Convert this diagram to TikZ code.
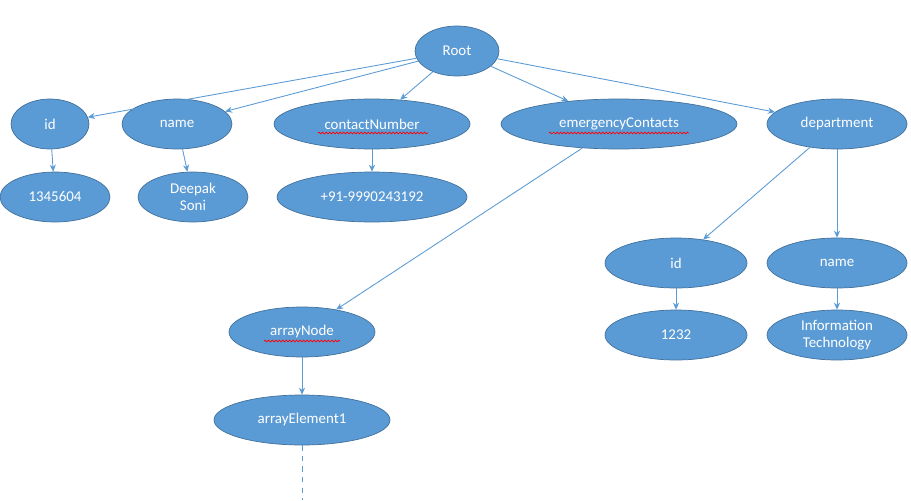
\documentclass[tikz,border=0pt]{standalone}
\usepackage{fontspec}
\setmainfont{Carlito}
\usetikzlibrary{shapes.geometric, arrows.meta, decorations.pathmorphing}
\definecolor{nodeblue}{RGB}{91, 155, 213}
\definecolor{rimblue}{RGB}{65, 113, 156}

\begin{document}
\begin{tikzpicture}[
  x=0.02cm, y=-0.02cm,
  font=\fontsize{8.5}{10}\selectfont,
  treenode/.style={
    draw=rimblue,
    fill=nodeblue,
    ellipse,
    text=white,
    align=center,
    inner sep=0pt,
    minimum height=1cm,
  },
  link/.style={
    draw=nodeblue,
    line width=0.5pt,
    -{Stealth[length=4pt, width=3.5pt]},
  },
  squiggle/.style={
    draw=red,
    line width=0.4pt,
    decorate,
    decoration={snake, amplitude=0.5pt, segment length=2pt},
  }
]
  \useasboundingbox (0,0) rectangle (911,500);

  % === top level ===
  \node[treenode, minimum width=1.68cm] (root) at (457,51) {Root};
  \node[treenode, minimum width=1.56cm] (id) at (50,124) {id};
  \node[treenode, minimum width=2.2cm] (name) at (177,124) {name};
  \node[treenode, minimum width=3.92cm] (contact) at (372,124) {contactNumber};
  \node[treenode, minimum width=4.72cm] (emerg) at (619,124) {emergencyContacts};
  \node[treenode, minimum width=2.8cm] (dept) at (837,124) {department};

  % === values ===
  \node[treenode, minimum width=2.2cm] (idval) at (55,197) {1345604};
  \node[treenode, minimum width=2.2cm] (nameval) at (193,197) {Deepak\\Soni};
  \node[treenode, minimum width=3.8cm] (contactval) at (372,197) {+91-9990243192};

  % === array branch ===
  \node[treenode, minimum width=2.92cm] (arr) at (302,332) {arrayNode};
  \node[treenode, minimum width=3.52cm] (arrel) at (302,420) {arrayElement1};
  \coordinate (arrend) at (302,500);

  % === department branch ===
  \node[treenode, minimum width=2.84cm] (did) at (676,263) {id};
  \node[treenode, minimum width=2.8cm] (dname) at (837,263) {name};
  \node[treenode, minimum width=2.84cm] (didval) at (676,335) {1232};
  \node[treenode, minimum width=2.8cm] (dnameval) at (837,335) {Information\\Technology};

  % Links
  \foreach \child in {id, name, contact, emerg, dept}
    \draw[link] (root) -- (\child);
  \draw[link] (id) -- (idval);
  \draw[link] (name) -- (nameval);
  \draw[link] (contact) -- (contactval);
  \draw[link] (emerg) -- (arr);
  \draw[link] (arr) -- (arrel);
  \draw[nodeblue, dashed, line width=0.5pt] (arrel) -- (arrend);
  \draw[link] (dept) -- (did);
  \draw[link] (dept) -- (dname);
  \draw[link] (did) -- (didval);
  \draw[link] (dname) -- (dnameval);

  % spell-check marks
  \draw[squiggle] (318,133) -- (428,133);
  \draw[squiggle] (549,133) -- (689,133);
  \draw[squiggle] (264,341) -- (340,341);
\end{tikzpicture}
\end{document}
